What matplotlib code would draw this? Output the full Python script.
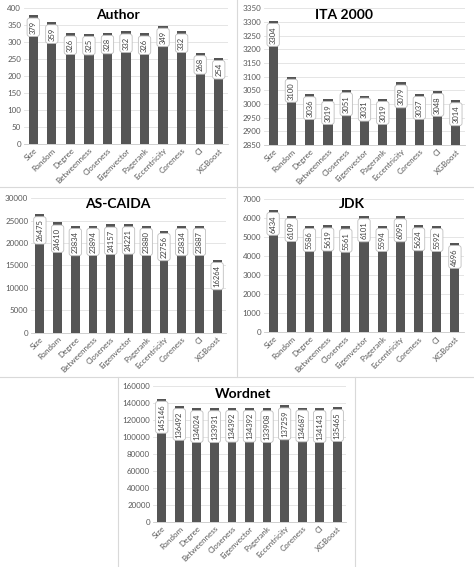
import matplotlib
matplotlib.use("Agg")
import matplotlib.pyplot as plt
from matplotlib.lines import Line2D

plt.rcParams['font.family'] = ['Lato', 'DejaVu Sans']

metodos = ['Size', 'Random', 'Degree', 'Betweenness', 'Closeness', 'Eigenvector',
           'Pagerank', 'Eccentricity', 'Coreness', 'CI', 'XGBoost']

author = [379, 359, 326, 325, 328, 332, 326, 349, 332, 268, 254]
ita2000 = [3304, 3100, 3036, 3019, 3051, 3031, 3019, 3079, 3037, 3048, 3014]
as_caida = [26475, 24610, 23834, 23894, 24157, 24221, 23880, 22756, 23834, 23887, 16264]
jdk = [6434, 6109, 5586, 5619, 5561, 6101, 5594, 6095, 5624, 5592, 4696]
wordnet = [145146, 136492, 134024, 133931, 134392, 134392, 133908, 137259, 134687, 134143, 135465]

W, H = 474, 567
fig = plt.figure(figsize=(W / 100, H / 100), dpi=100)
fig.patch.set_facecolor('white')


def px_axes(x0, y0, x1, y1):
    return fig.add_axes([x0 / W, 1 - y1 / H, (x1 - x0) / W, (y1 - y0) / H])


def fig_line(xs, ys):
    fig.add_artist(Line2D([x / W for x in xs], [1 - y / H for y in ys],
                          color='#d9d9d9', lw=0.8, transform=fig.transFigure))


def grafico(box, valores, titulo, titulo_pos, ylim, passo):
    ax = px_axes(*box)
    x = range(len(metodos))
    ax.bar(x, valores, width=0.5, color='#555555', zorder=2)
    ax.set_ylim(*ylim)
    ax.set_xlim(-0.5, len(metodos) - 0.5)
    ticks = list(range(ylim[0], ylim[1] + 1, passo))
    ax.set_yticks(ticks)
    ax.set_xticks(list(x))
    ax.set_xticklabels(metodos, rotation=45, ha='right', rotation_mode='anchor')
    ax.tick_params(axis='both', length=0, labelsize=5.8, labelcolor='#595959', pad=2)
    ax.grid(axis='y', color='#e0e0e0', lw=0.6, zorder=0)
    for lado in ['top', 'right', 'left']:
        ax.spines[lado].set_visible(False)
    ax.spines['bottom'].set_color('#c8c8c8')
    ax.spines['bottom'].set_linewidth(0.6)
    for i, v in enumerate(valores):
        ax.annotate(str(v), xy=(i, v), xytext=(0, -3.8), textcoords='offset points',
                    ha='center', va='top', rotation=90, fontsize=5.5, color='#404040',
                    zorder=4,
                    bbox=dict(boxstyle='round,pad=0.35', fc='white', ec='#bfbfbf', lw=0.6))
    fig.text(titulo_pos[0] / W, 1 - titulo_pos[1] / H, titulo, ha='center', va='center',
             fontsize=10, fontweight='bold', color='black')
    return ax


grafico((24, 8.3, 228, 144), author, 'Author', (118, 15), (0, 400), 50)
grafico((264, 8.3, 465, 145), ita2000, 'ITA 2000', (344, 15), (2850, 3350), 50)
grafico((31, 198.3, 226, 332.7), as_caida, 'AS-CAIDA', (118, 204), (0, 30000), 5000)
grafico((264, 199, 464, 332.3), jdk, 'JDK', (352, 204), (0, 7000), 1000)
grafico((153, 386, 346, 522), wordnet, 'Wordnet', (243, 394), (0, 160000), 20000)

# bordas dos paineis
fig_line([237, 237], [0, 377])
fig_line([0, W], [187, 187])
fig_line([0, W], [377, 377])
fig_line([118, 118], [377, H])
fig_line([355, 355], [377, H])

fig.savefig('out.png', dpi=100, facecolor='white')
